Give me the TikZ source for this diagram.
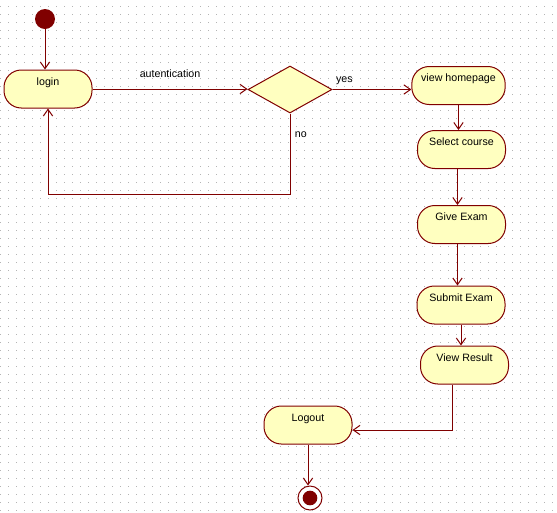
\documentclass[tikz,border=0pt]{standalone}
\usepackage{fontspec}
\setmainfont{Liberation Sans}
\usepackage{xcolor}
\usetikzlibrary{shapes.geometric,arrows.meta}

\definecolor{bordo}{HTML}{800000}
\definecolor{crema}{HTML}{FFFFC0}
\definecolor{punti}{HTML}{B4B4B4}

\tikzset{
  attivita/.style={draw=bordo, fill=crema, line width=0.75pt, rounded corners=13pt,
    minimum width=66pt, inner sep=0pt, text height=11.25pt, text depth=17.25pt},
  freccia/.style={draw=bordo, line width=0.75pt, -{Straight Barb[length=5pt,width=7pt]}}
}

\begin{document}
\begin{tikzpicture}[x=0.75pt,y=-0.75pt,font=\fontsize{8}{9.6}\selectfont]

\useasboundingbox (0,0) rectangle (557,512);

% Griglia di punti
\foreach \i in {0,...,69}
  \foreach \j in {0,...,63}
    \fill[punti] ({8*\i},{6.2+8*\j}) rectangle ++(1,1);

% Inizio e fine
\node[circle, fill=bordo, minimum size=15pt, inner sep=0pt] (inizio) at (45,19) {};
\node[circle, draw=bordo, fill=white, line width=0.75pt, minimum size=18pt, inner sep=0pt,
  path picture={\fill[bordo] (path picture bounding box.center) circle (5.5pt);}] (fine) at (310,498) {};

% Attivita
\node[attivita] (login) at (48,89) {login};
\node[diamond, draw=bordo, fill=crema, line width=0.75pt, minimum width=63pt,
  minimum height=35.25pt, inner sep=0pt] (scelta) at (290,89.5) {};
\node[attivita, minimum width=70pt] (home) at (458.5,85.5) {view homepage};
\node[attivita] (corso) at (461.5,149.5) {Select course};
\node[attivita] (esame) at (461.5,224.5) {Give Exam};
\node[attivita] (consegna) at (461,305) {Submit Exam};
\node[attivita] (risultato) at (464.5,365) {View Result};
\node[attivita] (logout) at (308,425) {Logout};

% Frecce
\draw[freccia] (inizio) -- (inizio |- login.north);
\draw[freccia] (login.east) -- node[above=5pt] {autentication} (login.east -| scelta.west);
\draw[freccia] (scelta.east) -- node[above, pos=0.15] {yes} (scelta.east -| home.west);
\draw[freccia] (scelta.south) -- node[right, pos=0.26] {no} ++(0,81) -| (login.south);

\draw[freccia] (home.south) -- (home.south |- corso.north);
\draw[freccia] ([xshift=-3pt]corso.south) -- ([xshift=-3pt]corso.south |- esame.north);
\draw[freccia] ([xshift=-3pt]esame.south) -- ([xshift=-3pt]esame.south |- consegna.north);
\draw[freccia] (consegna.south) -- (consegna.south |- risultato.north);
\draw[freccia] ([xshift=-9pt]risultato.south) |- ([yshift=-3.75pt]logout.east);
\draw[freccia] (logout.south) -- (logout.south |- fine.north);

\end{tikzpicture}
\end{document}
